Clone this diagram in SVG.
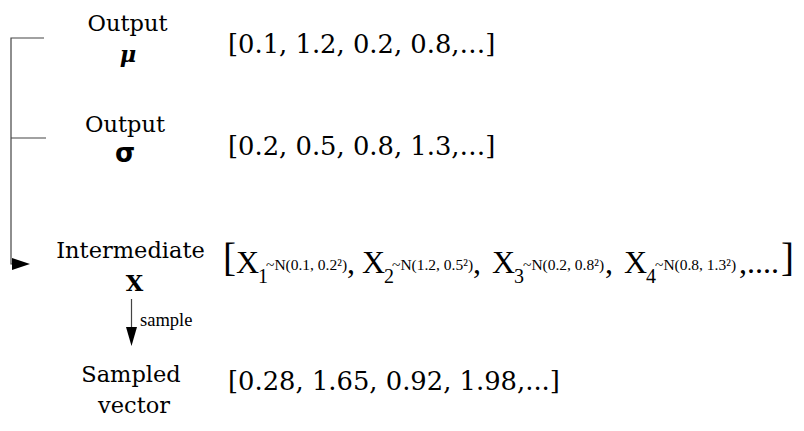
<svg xmlns="http://www.w3.org/2000/svg" width="804" height="431" viewBox="0 0 804 431">
<style>
.lbl{font-family:"DejaVu Serif","Liberation Serif",serif;font-size:22.5px;fill:#000;text-anchor:middle}
.arr{font-family:"DejaVu Serif","Liberation Serif",serif;font-size:25.8px;fill:#000}
.tm{font-family:"Liberation Serif","Times New Roman",serif;fill:#000}
.big{font-size:32px}
.brk{font-size:39px}
.sub{font-size:20px}
.sm{font-size:15.5px}
.line{stroke:#444;stroke-width:1.2;fill:none}
</style>
<rect width="804" height="431" fill="#fff"/>
<g id="connectors">
<path class="line" d="M44,38 H11 V264 H14"/>
<path class="line" d="M46,138 H11"/>
<polygon points="12,258 30,264 12,270" fill="#000"/>
<path class="line" d="M131.5,299 V330" stroke="#000"/>
<polygon points="126,327 137,327 131.5,346" fill="#000"/>
<text class="tm" x="140" y="326" font-size="18.5">sample</text>
</g>
<g id="output-mu">
<text class="lbl" x="127.5" y="31">Output</text>
<text class="lbl" x="128" y="62" font-weight="bold" font-style="italic">μ</text>
<text class="arr" x="228" y="53">[0.1, 1.2, 0.2, 0.8,…]</text>
</g>
<g id="output-sigma">
<text class="lbl" x="125" y="132">Output</text>
<text x="125" y="162" font-family="DejaVu Sans,sans-serif" font-weight="bold" font-size="26" text-anchor="middle">σ</text>
<text class="arr" x="228" y="155">[0.2, 0.5, 0.8, 1.3,…]</text>
</g>
<g id="intermediate-x">
<text class="lbl" x="130.5" y="258">Intermediate</text>
<text class="lbl" x="134.5" y="291" font-weight="bold">X</text>
<text class="tm brk" x="223" y="271">[</text>
<text class="tm big" x="236" y="273">X</text>
<text class="tm sub" x="258" y="283">1</text>
<text class="tm sm" x="266" y="270">~N(0.1, 0.2²)</text>
<text class="tm big" x="347" y="273">,</text>
<text class="tm big" x="362" y="273">X</text>
<text class="tm sub" x="384" y="283">2</text>
<text class="tm sm" x="392" y="270">~N(1.2, 0.5²)</text>
<text class="tm big" x="473" y="273">,</text>
<text class="tm big" x="492" y="273">X</text>
<text class="tm sub" x="514" y="283">3</text>
<text class="tm sm" x="523" y="270">~N(0.2, 0.8²)</text>
<text class="tm big" x="605" y="273">,</text>
<text class="tm big" x="624" y="273">X</text>
<text class="tm sub" x="646" y="283">4</text>
<text class="tm sm" x="655" y="270">~N(0.8, 1.3²)</text>
<text class="tm big" x="739" y="273">,....</text>
<text class="tm brk" x="781" y="271">]</text>
</g>
<g id="sampled-vector">
<text class="lbl" x="131" y="382">Sampled</text>
<text class="lbl" x="134" y="413">vector</text>
<text class="arr" x="228" y="390">[0.28, 1.65, 0.92, 1.98,...]</text>
</g>
</svg>
